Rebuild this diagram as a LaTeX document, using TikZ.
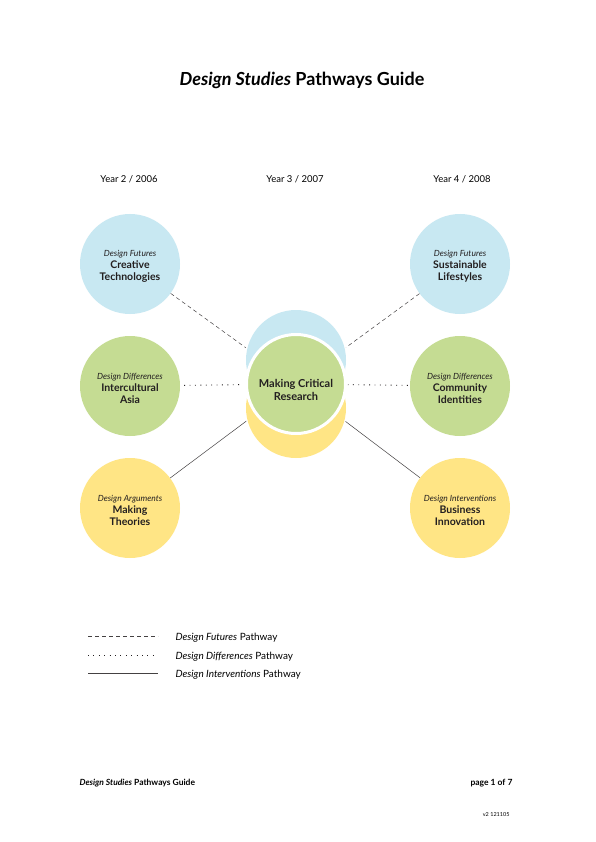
\documentclass[tikz,border=0pt]{standalone}
\usepackage{fontspec}
\setmainfont{Lato}
\usetikzlibrary{positioning}
\definecolor{dsblue}{HTML}{C8E8F2}
\definecolor{dsgreen}{HTML}{C5DC93}
\definecolor{dsyellow}{HTML}{FFE585}
\definecolor{dsink}{HTML}{231F20}
\tikzset{
  every picture/.style={line join=round, font=\fontsize{9.5}{11}\selectfont},
  % pathway circles and their wording
  pathcirc/.style={circle, minimum size=100pt, inner sep=0pt},
  pathtext/.style={align=center, inner sep=0pt, yshift=-2pt, text=dsink,
    font=\fontsize{10.5}{12}\selectfont\bfseries},
  % connector styles, one per pathway
  futures/.style={dsink!85, line width=0.5pt, dash pattern=on 4pt off 3pt},
  differences/.style={dsink, line width=0.9pt, dash pattern=on 0.9pt off 4.5pt},
  interventions/.style={dsink!85, line width=0.5pt},
}
\newcommand{\strand}[1]{{\fontsize{8.5}{12}\selectfont\mdseries\itshape #1}}

\begin{document}
\begin{tikzpicture}[x=1pt, y=-1pt]
  \useasboundingbox[fill=white] (0,0) rectangle (595,842);
  % ---- title and year headings
  \node[font=\fontsize{18}{22}\selectfont\bfseries] (title) at (302,80)
    {\textit{Design Studies} Pathways Guide};
  \node (yr2) at (129,179) {Year 2 / 2006};
  \node (yr3) at (295,179) {Year 3 / 2007};
  \node (yr4) at (462,179) {Year 4 / 2008};
  % ---- year 3: overlapping circles behind the centre
  \fill[dsblue] (296,360) circle (50);
  \fill[dsyellow] (296,408) circle (50);
  \node[pathcirc, fill=dsgreen, draw=white, line width=3pt, minimum size=99pt,
    label={[pathtext, yshift=-4pt, font=\fontsize{11}{12.5}\selectfont\bfseries]center:{Making Critical\\Research}}]
    (crit) at (296,384) {};
  % ---- year 2
  \node[pathcirc, fill=dsblue,
    label={[pathtext]center:{\strand{Design Futures}\\Creative\\Technologies}}]
    (creative) at (130,264) {};
  \node[pathcirc, fill=dsgreen,
    label={[pathtext]center:{\strand{Design Differences}\\Intercultural\\Asia}}]
    (asia) at (130,386) {};
  \node[pathcirc, fill=dsyellow,
    label={[pathtext]center:{\strand{Design Arguments}\\Making\\Theories}}]
    (theories) at (130,508) {};
  % ---- year 4
  \node[pathcirc, fill=dsblue,
    label={[pathtext]center:{\strand{Design Futures}\\Sustainable\\Lifestyles}}]
    (lifestyles) at (460,264) {};
  \node[pathcirc, fill=dsgreen,
    label={[pathtext]center:{\strand{Design Differences}\\Community\\Identities}}]
    (identities) at (460,386) {};
  \node[pathcirc, fill=dsyellow,
    label={[pathtext]center:{\strand{Design Interventions}\\Business\\Innovation}}]
    (innovation) at (460,508) {};
  % ---- pathways
  \draw[futures, shorten >=11pt] (creative) -- (crit);
  \draw[futures, shorten >=11pt] (lifestyles) -- (crit);
  \draw[differences, shorten <=4pt, shorten >=4pt] (asia) -- (crit);
  \draw[differences, shorten <=2pt, shorten >=1pt] (identities) -- (crit);
  \draw[interventions, shorten >=11pt] (theories) -- (crit);
  \draw[interventions, shorten >=11pt] (innovation) -- (crit);
  % ---- legend
  \node[anchor=west, font=\fontsize{10}{12}\selectfont] (lgfut) at (172,638) {\textit{Design Futures} Pathway};
  \node[anchor=west, font=\fontsize{10}{12}\selectfont] (lgdif) at (172,657) {\textit{Design Differences} Pathway};
  \node[anchor=west, font=\fontsize{10}{12}\selectfont] (lgint) at (172,675) {\textit{Design Interventions} Pathway};
  \coordinate (lgfutA) at (88,636);  \coordinate (lgfutB) at (158,636);
  \coordinate (lgdifA) at (88,655);  \coordinate (lgdifB) at (158,655);
  \coordinate (lgintA) at (88,673);  \coordinate (lgintB) at (158,673);
  \draw[futures] (lgfutA) -- (lgfutB);
  \draw[differences] (lgdifA) -- (lgdifB);
  \draw[interventions] (lgintA) -- (lgintB);
  % ---- footer
  \node[anchor=west, font=\fontsize{8.5}{10}\selectfont\bfseries] (foot) at (76,783)
    {\textit{Design Studies} Pathways Guide};
  \node[anchor=east, font=\fontsize{8.5}{10}\selectfont\bfseries] (page) at (516,783)
    {page 1 of 7};
  \node[anchor=east, font=\fontsize{5.5}{6}\selectfont] (ver) at (513,815)
    {v2 121105};
\end{tikzpicture}
\end{document}
